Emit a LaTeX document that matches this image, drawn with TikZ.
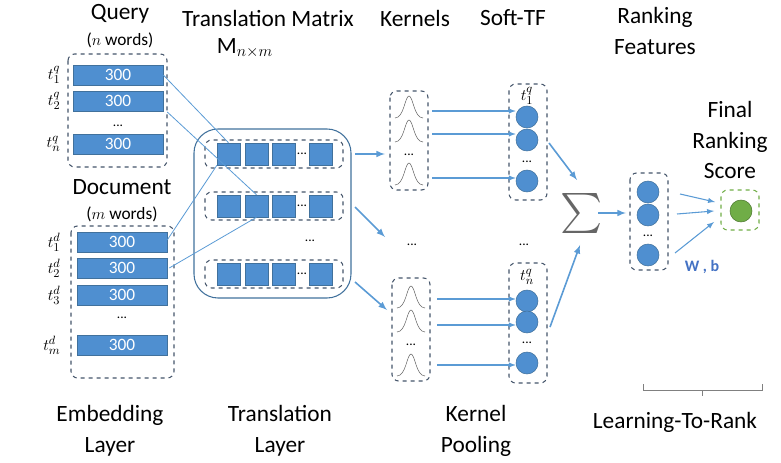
\documentclass[tikz,border=0pt]{standalone}
\usepackage{fontspec}
\setmainfont{Carlito}
\usetikzlibrary{calc,positioning}
\definecolor{barblue}{HTML}{4F8FD0}
\definecolor{lineblue}{HTML}{41719C}
\definecolor{arrblue}{HTML}{5B9BD5}
\definecolor{boxgray}{HTML}{44546A}
\definecolor{kgreen}{HTML}{70AD47}
\definecolor{wbblue}{HTML}{4472C4}
\tikzset{
  title/.style={font=\fontsize{17.5}{23}\selectfont,align=center},
  sub/.style={font=\fontsize{13}{14}\selectfont},
  dbox/.style={draw=boxgray,dashed,rounded corners=5pt,thick},
  bar/.style={fill=barblue,draw=lineblue,minimum width=67.5pt,minimum height=15pt,inner sep=0pt,text=white,font=\fontsize{13}{14}\selectfont},
  sq/.style={fill=barblue,draw=lineblue,minimum width=17pt,minimum height=16.5pt,inner sep=0pt},
  dot/.style={circle,fill=barblue,draw=lineblue,minimum size=16.5pt,inner sep=0pt},
  arr/.style={-latex,arrblue,very thick},
  thin arr/.style={-latex,arrblue,thick},
  lbl/.style={font=\fontsize{13}{13}\selectfont,inner sep=0pt},
}
\newcommand{\gauss}[2]{\draw[gray!80!black,thin] ($(#1,#2)+(-14,12)$) .. controls ($(#1,#2)+(-5,12)$) and ($(#1,#2)+(-4,-10)$) .. ($(#1,#2)+(0,-10)$) .. controls ($(#1,#2)+(4,-10)$) and ($(#1,#2)+(5,12)$) .. ($(#1,#2)+(14,12)$);}
\begin{document}
\begin{tikzpicture}[x=0.75pt,y=-0.75pt]
  \useasboundingbox (0,0) rectangle (781,463);

  % titles
  \node[title] (tq) at (120,14) {Query};
  \node[sub] at (120,40) {($n$ words)};
  \node[title] (tm) at (268,18) {Translation Matrix};
  \node[title] at (245,48) {M$_{n\times m}$};
  \node[title] at (415,18) {Kernels};
  \node[title] at (513,18) {Soft-TF};
  \node[title] at (655,31) {Ranking\\Features};
  \node[title] at (730,140) {Final\\Ranking\\Score};
  \node[title] (td) at (122,187) {Document};
  \node[sub] at (122,214) {($m$ words)};

  % embedding layer
  \draw[dbox] (68,54) rectangle (167,167);
  \draw[dbox] (71,226) rectangle (174,378);
  \foreach \n/\y/\s in {q1/75/1,q2/101/2,qn/144/n}{
    \node[bar] (\n) at (118,\y) {300};
    \node[lbl,left=9pt of \n] {$t^{q}_{\s}$};
  }
  \node at (118,126) {...};
  \foreach \n/\y/\s in {d1/242/1,d2/268/2,d3/295/3,dm/345/m}{
    \node[bar] (\n) at (122,\y) {300};
    \node[lbl,left=12pt of \n] {$t^{d}_{\s}$};
  }
  \node at (122,318) {...};

  % translation layer
  \draw[lineblue,thick,rounded corners=18pt] (194,129) rectangle (351,298);
  \foreach \r/\y in {1/154,2/206,3/274}{
    \draw[dbox] (205,\y-14) rectangle (343,\y+14);
    \foreach \c/\x in {1/228.5,2/256.5,3/284}{
      \node[sq] (m\r\c) at (\x,\y) {};
    }
    \node at (302,\y) {...};
    \node[sq] (m\r4) at (320.5,\y) {};
  }
  \node at (310,241) {...};

  \draw[arrblue,semithick] (q1.east) -- (m11.north);
  \draw[arrblue,semithick] ($(q2.east)+(4,11)$) -- (m22.north);
  \draw[arrblue,semithick] ($(d1.east)+(0,-2)$) -- (m11.south west);
  \draw[arrblue,semithick] ($(d2.east)+(2,0)$) -- (m22.south);

  % kernels
  \draw[dbox] (390,91) rectangle (428,190);
  \draw[dbox] (392,278) rectangle (430,381);
  \foreach \y in {106,130,173}{\gauss{409}{\y}}
  \foreach \y in {296,320,364}{\gauss{411}{\y}}
  \node at (409,155) {...};
  \node at (411,345) {...};
  \node at (412,245) {...};
  \coordinate (k1) at (385,154);
  \coordinate (k2) at (385,237);
  \coordinate (k3) at (387,310);
  \draw[arr] (355,154) -- (k1);
  \draw[arr] (355,207) -- (k2);
  \draw[arr] (355,282) -- (k3);

  % soft-TF
  \draw[dbox] (509,84) rectangle (547,200);
  \draw[dbox] (509,263) rectangle (547,383);
  \node[lbl] at (527,96) {$t^{q}_{1}$};
  \node[lbl] at (527,277) {$t^{q}_{n}$};
  \foreach \n/\y in {s1/117,s2/140,s3/181,r1/301,r2/322,r3/363}{
    \node[dot] (\n) at (527,\y) {};
  }
  \node at (527,162) {...};
  \node at (527,343) {...};
  \node at (524,245) {...};
  \foreach \y in {111,134,178}{\draw[thin arr] (432,\y) -- (s1.west |- 0,\y);}
  \foreach \y in {299,325,365}{\draw[thin arr] (437,\y) -- (s1.west |- 0,\y);}

  % sum
  \node[text=gray!80!black] (sum) at (582,214) {\scalebox{3}{$\sum$}};
  \draw[arr] (549,143) -- (577,180);
  \draw[arr] (550,327) -- (580,245);

  % ranking features
  \draw[dbox] (630,173) rectangle (668,270);
  \foreach \n/\y in {f1/192,f2/215,f3/255}{\node[dot] (\n) at (648,\y) {};}
  \node at (648,236) {...};
  \coordinate (fin) at (626,213);
  \draw[arr] (598,213) -- (fin);

  % final score
  \draw[draw=kgreen,dashed,thick,rounded corners=5pt] (721,190) rectangle (759,230);
  \node[circle,fill=kgreen,draw=kgreen!70!black,minimum size=16.5pt,inner sep=0pt] (score) at (741,211) {};
  \draw[thin arr] (680,194) -- (715,202);
  \draw[thin arr] (677,214) -- (714,211);
  \draw[thin arr] (675,253) -- (714,222);
  \node[text=wbblue,font=\bfseries\fontsize{12}{12}\selectfont] at (702,267) {W , b};

  % bottom labels
  \node[title] at (110,431) {Embedding\\Layer};
  \node[title] at (280,431) {Translation\\Layer};
  \node[title] at (476,431) {Kernel\\Pooling};
  \node[title] at (675,422) {Learning-To-Rank};
  \draw[gray] (643,384) -- (643,390) -- (762,390) -- (762,384);
  \draw[gray] (702,390) -- (702,396);
\end{tikzpicture}
\end{document}
